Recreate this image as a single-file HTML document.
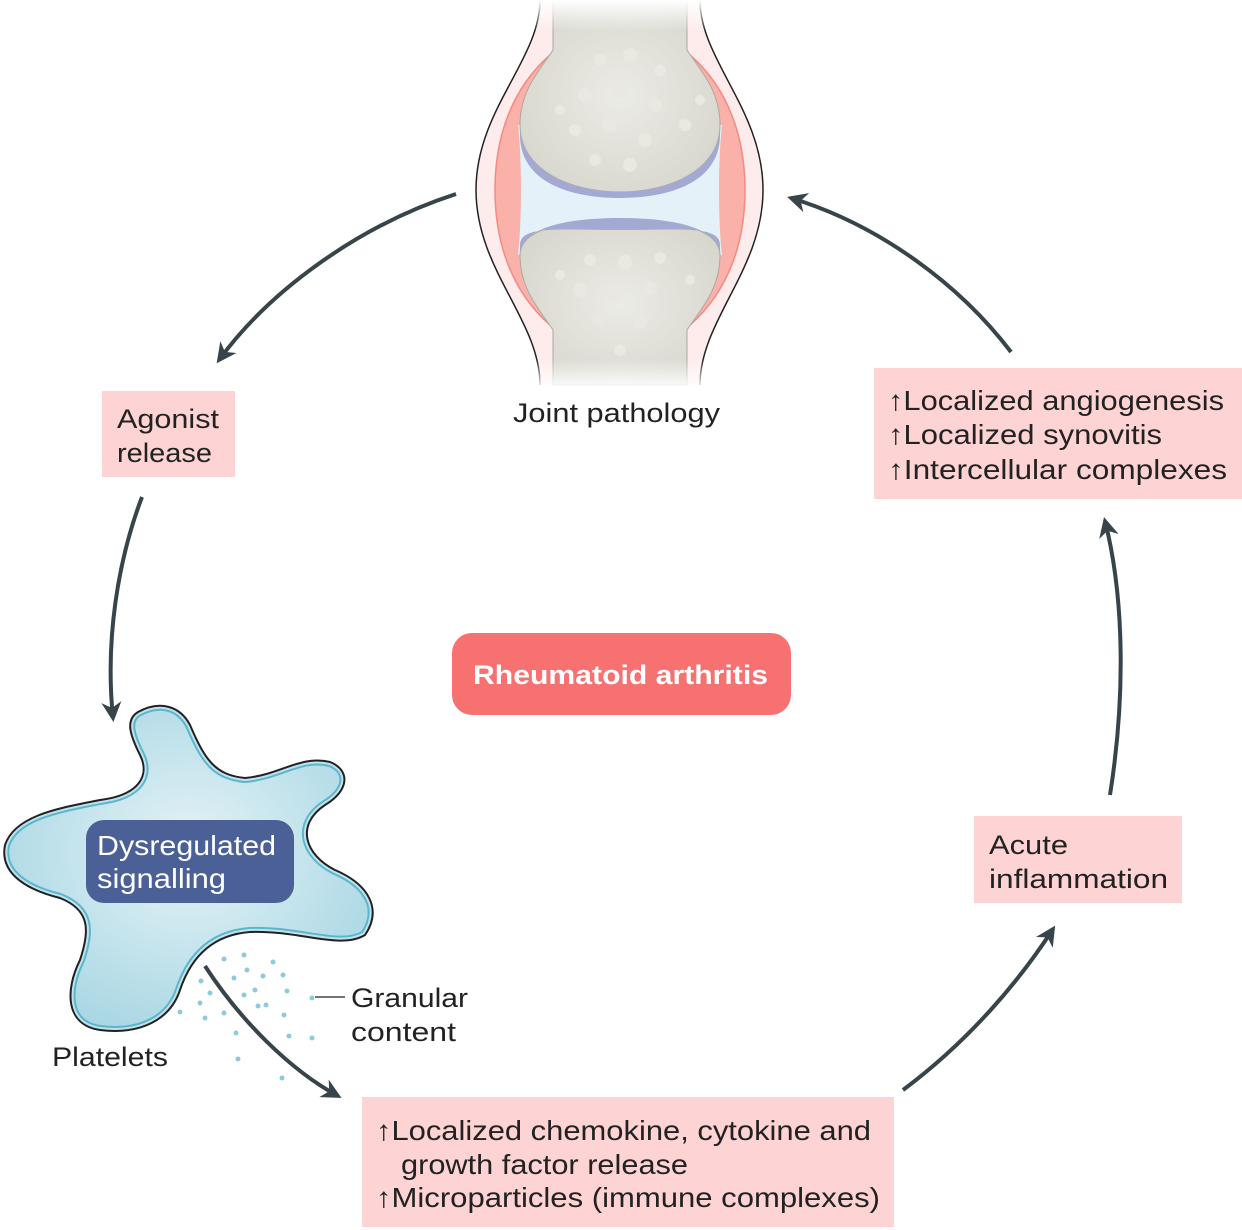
<!DOCTYPE html>
<html><head><meta charset="utf-8"><style>
html,body{margin:0;padding:0;background:#fff;}
svg{display:block;font-family:"Liberation Sans",sans-serif;}
</style></head><body>
<svg width="1242" height="1230" viewBox="0 0 1242 1230" xmlns="http://www.w3.org/2000/svg">
<defs>
<radialGradient id="bone" cx="0.5" cy="0.5" r="0.6"><stop offset="0" stop-color="#ececE6"/><stop offset="1" stop-color="#d6d6cd"/></radialGradient>
<radialGradient id="plt" cx="0.5" cy="0.45" r="0.6"><stop offset="0" stop-color="#e6f3f7"/><stop offset="1" stop-color="#a7d6e3"/></radialGradient>
<marker id="ah" markerWidth="20" markerHeight="20" refX="8" refY="5" orient="auto" markerUnits="userSpaceOnUse" viewBox="0 0 10 10">
<path d="M0,0 L10,5 L0,10 L3,5 Z" fill="#37444a"/></marker>
<linearGradient id="fade" x1="0" y1="0" x2="0" y2="1"><stop offset="0" stop-color="#fff" stop-opacity="1"/><stop offset="0.08" stop-color="#fff" stop-opacity="0"/><stop offset="0.92" stop-color="#fff" stop-opacity="0"/><stop offset="1" stop-color="#fff" stop-opacity="1"/></linearGradient>
<path id="pl" d="M138,712 C160,700 180,706 190,725 C205,760 215,775 245,778 C280,775 300,755 330,762 C350,770 350,790 325,805 C295,825 305,855 335,870 C370,885 382,910 365,935 C340,950 300,930 250,932 C210,935 190,960 180,990 C170,1020 140,1035 100,1030 C65,1025 65,990 80,960 C90,930 90,910 60,898 C20,888 0,870 5,845 C15,815 60,808 100,800 C140,795 150,775 140,755 C130,735 125,720 138,712 Z"/>
<clipPath id="plc"><use href="#pl"/></clipPath>
</defs>

<!-- Joint -->
<path d="M540,0 C540,60 476,110 476,190 C476,270 540,320 540,385 L700,385 C700,320 763,270 763,190 C763,110 700,60 700,0 Z" fill="#fdeceb"/>
<path d="M550,55 C510,90 495,140 495,190 C495,240 510,290 550,325 L690,325 C730,290 745,240 745,190 C745,140 730,90 690,55 Z" fill="#f9b1a9" stroke="#f48a82" stroke-width="1.5"/>
<path d="M518,125 C522,160 522,220 518,255 L722,255 C718,220 718,160 722,125 Z" fill="#e5f1f8"/>
<path d="M553,0 L553,50 C540,70 520,90 520,125 C520,170 570,192 620,192 C670,192 720,170 720,125 C720,90 700,70 687,50 L687,0 Z" fill="url(#bone)" stroke="#aaa99e" stroke-width="1"/>
<path d="M520,125 C520,170 570,192 620,192 C670,192 720,170 720,125 L720,135 C720,182 670,198 620,198 C570,198 520,182 520,135 Z" fill="#a3a9d2"/>
<path d="M520,255 C520,230 560,220 620,220 C680,220 720,230 720,255 C720,290 700,310 687,330 L687,385 L553,385 L553,330 C540,310 520,290 520,255 Z" fill="url(#bone)" stroke="#aaa99e" stroke-width="1"/>
<path d="M520,255 C520,230 560,218 620,218 C680,218 720,230 720,255 L720,245 C720,225 680,230 620,230 C560,230 520,225 520,245 Z" fill="#a3a9d2"/>
<g fill="#e9e9e2">
<circle cx="600" cy="60" r="6"/><circle cx="630" cy="55" r="7"/><circle cx="660" cy="70" r="6"/><circle cx="585" cy="95" r="7"/><circle cx="620" cy="90" r="8"/><circle cx="655" cy="105" r="7"/><circle cx="575" cy="130" r="6"/><circle cx="610" cy="125" r="7"/><circle cx="645" cy="140" r="7"/><circle cx="685" cy="125" r="6"/><circle cx="595" cy="160" r="6"/><circle cx="630" cy="165" r="7"/><circle cx="560" cy="110" r="5"/><circle cx="700" cy="100" r="5"/>
<circle cx="590" cy="260" r="6"/><circle cx="625" cy="262" r="7"/><circle cx="660" cy="258" r="6"/><circle cx="580" cy="290" r="7"/><circle cx="615" cy="295" r="8"/><circle cx="650" cy="288" r="7"/><circle cx="600" cy="320" r="6"/><circle cx="640" cy="322" r="7"/><circle cx="620" cy="350" r="6"/><circle cx="690" cy="280" r="5"/><circle cx="560" cy="275" r="5"/>
</g>
<path d="M540,0 C540,60 476,110 476,190 C476,270 540,320 540,385 M700,0 C700,60 763,110 763,190 C763,270 700,320 700,385" fill="none" stroke="#222" stroke-width="1.5"/>
<rect x="460" y="0" width="320" height="390" fill="url(#fade)"/>
<text x="513" y="422" font-size="27" fill="#222" textLength="207" lengthAdjust="spacingAndGlyphs">Joint pathology</text>

<!-- Arrows -->
<g fill="none" stroke="#37444a" stroke-width="4" marker-end="url(#ah)">
<path d="M456,194 C360,225 270,290 219,360"/>
<path d="M142,497 C118,560 105,640 113,718"/>
<path d="M205,966 C240,1020 290,1070 338,1096"/>
<path d="M903,1090 C970,1040 1020,980 1053,929"/>
<path d="M1110,795 C1125,700 1125,600 1105,521"/>
<path d="M1011,352 C960,285 880,225 791,198"/>
</g>

<!-- Boxes -->
<rect x="102" y="391" width="133" height="86" fill="#fdd3d3"/>
<text font-size="27" fill="#222"><tspan x="117" y="428" textLength="102" lengthAdjust="spacingAndGlyphs">Agonist</tspan><tspan x="117" y="462" textLength="95" lengthAdjust="spacingAndGlyphs">release</tspan></text>

<rect x="874" y="368" width="368" height="131" fill="#fdd3d3"/>
<text font-size="28" fill="#222">
<tspan x="888" y="410" textLength="336" lengthAdjust="spacingAndGlyphs">↑Localized angiogenesis</tspan>
<tspan x="888" y="444" textLength="274" lengthAdjust="spacingAndGlyphs">↑Localized synovitis</tspan>
<tspan x="888" y="479" textLength="339" lengthAdjust="spacingAndGlyphs">↑Intercellular complexes</tspan></text>

<rect x="452" y="633" width="339" height="82" rx="20" fill="#f87171"/>
<text x="473" y="684" font-size="27" font-weight="bold" fill="#fff" textLength="295" lengthAdjust="spacingAndGlyphs">Rheumatoid arthritis</text>

<rect x="974" y="816" width="208" height="87" fill="#fdd3d3"/>
<text font-size="27" fill="#222"><tspan x="989" y="854" textLength="79" lengthAdjust="spacingAndGlyphs">Acute</tspan><tspan x="989" y="888" textLength="179" lengthAdjust="spacingAndGlyphs">inflammation</tspan></text>

<rect x="362" y="1097" width="532" height="130" fill="#fdd3d3"/>
<text font-size="28" fill="#222">
<tspan x="376" y="1140" textLength="495" lengthAdjust="spacingAndGlyphs">↑Localized chemokine, cytokine and</tspan>
<tspan x="401" y="1174" textLength="287" lengthAdjust="spacingAndGlyphs">growth factor release</tspan>
<tspan x="376" y="1207" textLength="504" lengthAdjust="spacingAndGlyphs">↑Microparticles (immune complexes)</tspan></text>

<!-- Platelet -->
<use href="#pl" fill="url(#plt)"/>
<g clip-path="url(#plc)" fill="none">
<use href="#pl" stroke="#5bb6cc" stroke-width="10"/>
<use href="#pl" stroke="#bfe3ec" stroke-width="6"/>
</g>
<use href="#pl" fill="none" stroke="#222" stroke-width="2"/>
<rect x="86" y="820" width="208" height="83" rx="18" fill="#4a6096"/>
<text font-size="28" fill="#fff"><tspan x="97" y="855" textLength="179" lengthAdjust="spacingAndGlyphs">Dysregulated</tspan><tspan x="97" y="888" textLength="129" lengthAdjust="spacingAndGlyphs">signalling</tspan></text>
<g fill="#8ccbdc">
<circle cx="224" cy="959" r="2.5"/><circle cx="244" cy="955" r="2.5"/><circle cx="273" cy="962" r="2.5"/><circle cx="247" cy="970" r="2.5"/><circle cx="234" cy="978" r="2.5"/><circle cx="263" cy="976" r="2.5"/><circle cx="283" cy="975" r="2.5"/><circle cx="201" cy="981" r="2.5"/><circle cx="210" cy="993" r="2.5"/><circle cx="244" cy="995" r="2.5"/><circle cx="255" cy="990" r="2.5"/><circle cx="287" cy="991" r="2.5"/><circle cx="200" cy="1003" r="2.5"/><circle cx="258" cy="1006" r="2.5"/><circle cx="266" cy="1005" r="2.5"/><circle cx="180" cy="1012" r="2.5"/><circle cx="205" cy="1018" r="2.5"/><circle cx="224" cy="1013" r="2.5"/><circle cx="284" cy="1015" r="2.5"/><circle cx="236" cy="1033" r="2.5"/><circle cx="289" cy="1036" r="2.5"/><circle cx="312" cy="1038" r="2.5"/><circle cx="312" cy="998" r="2.5"/><circle cx="238" cy="1059" r="2.5"/><circle cx="282" cy="1078" r="2.5"/>
</g>
<line x1="315" y1="997" x2="345" y2="997" stroke="#222" stroke-width="1.2"/>
<text font-size="27" fill="#222"><tspan x="351" y="1007" textLength="117" lengthAdjust="spacingAndGlyphs">Granular</tspan><tspan x="351" y="1041" textLength="105" lengthAdjust="spacingAndGlyphs">content</tspan></text>
<text x="52" y="1066" font-size="27" fill="#222" textLength="116" lengthAdjust="spacingAndGlyphs">Platelets</text>
</svg>
</body></html>
